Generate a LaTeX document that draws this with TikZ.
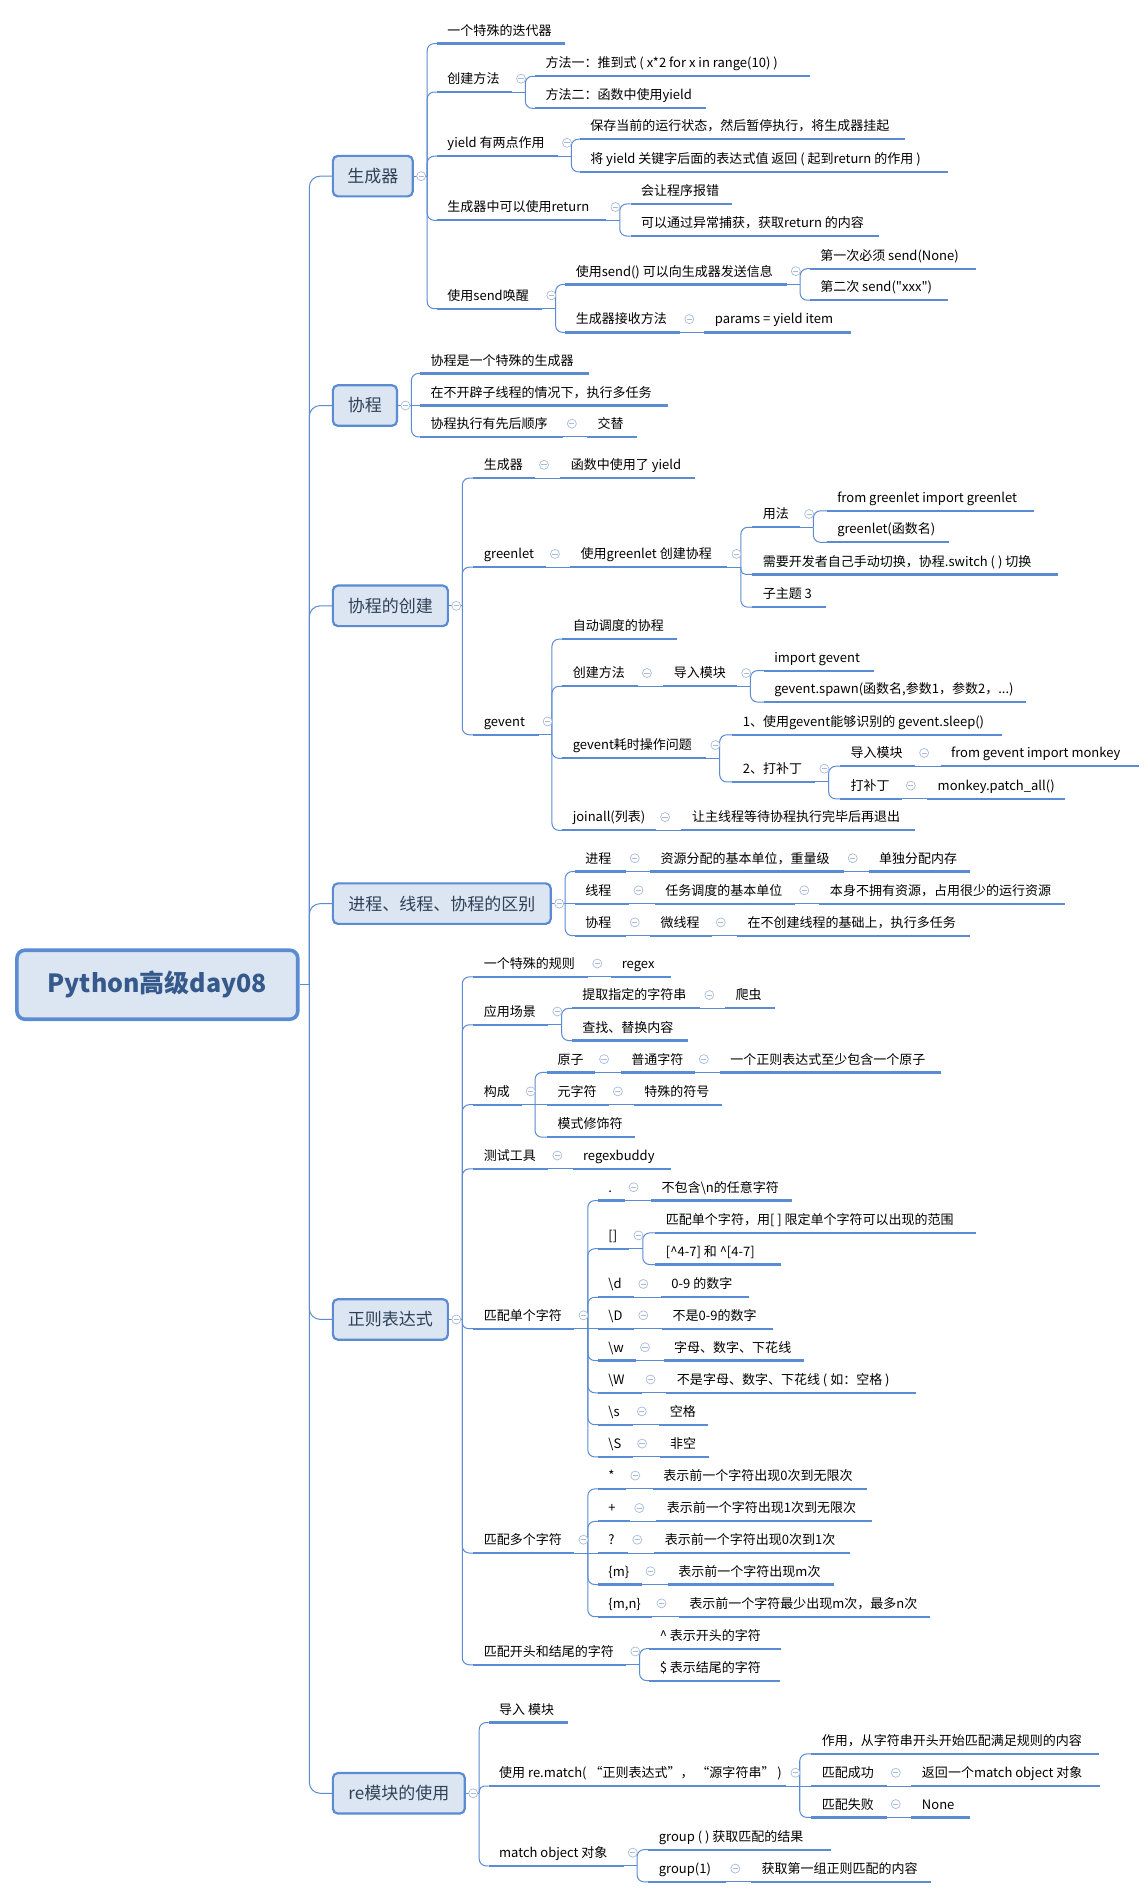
\documentclass[tikz,border=0pt]{standalone}
\usepackage{fontspec}
\setmainfont{Noto Sans CJK SC}
\definecolor{lc}{HTML}{5B8BD2}
\definecolor{ccol}{HTML}{A9BBDA}
\definecolor{bfill}{HTML}{DCE6F2}
\definecolor{mtext}{HTML}{2F4058}
\definecolor{rtext}{HTML}{34598A}
\tikzset{
 tp/.style={inner xsep=0pt, inner ysep=5.4pt, outer sep=0pt, text height=10.5pt, text depth=3pt,
   font=\fontsize{13}{15}\selectfont, text=black, anchor=south west},
 ul/.style={draw=lc, line width=2.2pt},
 cn/.style={draw=lc, line width=1pt},
 col/.style={circle, draw=ccol, fill=white, line width=0.7pt, minimum size=9pt, inner sep=0pt,
   path picture={\draw[ccol, line width=0.8pt] ([xshift=-2.6pt]path picture bounding box.center) -- ([xshift=2.6pt]path picture bounding box.center);}},
 mb/.style={rectangle, rounded corners=5pt, draw=lc, line width=2.2pt, fill=bfill,
   font=\fontsize{17}{20}\selectfont, text=mtext, inner sep=0pt},
 rootbox/.style={rectangle, rounded corners=8pt, draw=lc, line width=3.6pt, fill=bfill,
   font=\fontsize{25}{29}\selectfont\bfseries, text=rtext, inner sep=0pt},
}
% topic: name, x1, x2, underline y, text
\newcommand\tp[6][]{%
 \pgfmathsetlengthmacro\tpw{(#4-#3)*1.2099pt}%
 \node[tp,#1] (#2) at (#3,#5) {\makebox[\tpw][l]{\hspace{10.5pt}#6}};%
 \draw[ul] (#2.south west) -- (#2.south east);%
}
\newcommand\mbx[5]{%
 \pgfmathsetlengthmacro\tpw{(#3-#2)*1.2099pt}%
 \node[mb, minimum width=\tpw, minimum height=40.5pt] (#1) at ({(#2+#3)/2},#4) {#5};%
}
\newcommand\cl[1]{\node[col] (#1-c) at ([xshift=9pt,yshift=13.3pt]#1.south east) {};}
\newcommand\cb[1]{\node[col] (#1-c) at ([xshift=7.3pt]#1.east) {};}
\newcommand\lk[3][7pt]{\draw[cn] (#2.south east) -- ([xshift=13.3pt]#2.south east);%
 \draw[cn,rounded corners=#1] ([xshift=13.3pt]#2.south east) |- (#3.south west);}
\newcommand\lkb[3][7pt]{\draw[cn] (#2.east) -- ([xshift=13.3pt]#2.east);%
 \draw[cn,rounded corners=#1] ([xshift=13.3pt]#2.east) |- (#3.south west);}
\newcommand\ls[2]{\draw[cn] (#1.south east) -- (#2.south west);}
\newcommand\lsb[2]{\draw[cn] (#1.east) -- (#2.south west);}
\begin{document}
\begin{tikzpicture}[x=1.2099pt,y=-1.2099pt]
\fill[white] (0,0) rectangle (948,1568);
\useasboundingbox (0,0) rectangle (948,1568);

% ---------- root and main boxes ----------
\node[rootbox, minimum width=280.7pt, minimum height=69pt] (root) at (130,813.5) {Python高级day08};
\mbx{g}{275}{341}{145.5}{生成器}
\mbx{x}{275}{328}{335}{协程}
\mbx{c}{275}{370}{500.5}{协程的创建}
\mbx{q}{275}{455}{746.5}{进程、线程、协程的区别}
\mbx{r}{275}{370}{1090}{正则表达式}
\mbx{m}{275}{384}{1481.5}{re模块的使用}
\draw[cn] (root.east) -- ([xshift=9.7pt]root.east);
\foreach \b in {g,x,c,q,r,m} {\draw[cn,rounded corners=11pt] ([xshift=9.7pt]root.east) |- (\b.west);}

% ---------- 生成器 ----------
\tp{g1}{361}{467}{36}{一个特殊的迭代器}
\tp{g2}{361}{423}{76}{创建方法}
\tp{g21}{442}{669}{63}{方法一：推到式 ( x*2 for x in range(10) )}
\tp{g22}{442}{583}{89.5}{方法二：函数中使用yield}
\tp{g3}{361}{461}{129}{yield 有两点作用}
\tp{g31}{479}{748}{115}{保存当前的运行状态，然后暂停执行，将生成器挂起}
\tp{g32}{479}{783}{142}{将 yield 关键字后面的表达式值 返回 ( 起到return 的作用 )}
\tp{g4}{361}{501}{182}{生成器中可以使用return}
\tp{g41}{521}{605}{168.5}{会让程序报错}
\tp{g42}{521}{726}{195}{可以通过异常捕获，获取return 的内容}
\tp{g5}{361}{448}{255}{使用send唤醒}
\tp{g51}{467}{650}{235}{使用send() 可以向生成器发送信息}
\tp{g511}{669}{806}{222}{第一次必须 send(None)}
\tp{g512}{669}{783}{248}{第二次 send(\textquotedbl xxx\textquotedbl)}
\tp{g52}{467}{562}{274.6}{生成器接收方法}
\tp{g521}{582}{703}{274.6}{params = yield item}
\foreach \k in {g1,g2,g3,g4,g5} {\lkb{g}{\k}}
\lk{g2}{g21}\lk{g2}{g22}\lk{g3}{g31}\lk{g3}{g32}\lk{g4}{g41}\lk{g4}{g42}
\lk{g5}{g51}\lk{g5}{g52}\lk{g51}{g511}\lk{g51}{g512}\ls{g52}{g521}
\cb{g}\cl{g2}\cl{g3}\cl{g4}\cl{g5}\cl{g51}\cl{g52}

% ---------- 协程 ----------
\tp{x1}{347}{487}{308.5}{协程是一个特殊的生成器}
\tp{x2}{347}{552}{335}{在不开辟子线程的情况下，执行多任务}
\tp{x3}{347}{465}{361}{协程执行有先后顺序}
\tp{x31}{485}{526}{361}{交替}
\lkb{x}{x1}\lsb{x}{x2}\lkb{x}{x3}\ls{x3}{x31}
\cb{x}\cl{x3}

% ---------- 协程的创建 ----------
\tp{c1}{391}{442}{395}{生成器}
\tp{c11}{463}{574}{395}{函数中使用了 yield}
\tp{c2}{391}{451}{468.6}{greenlet}
\tp{c21}{471}{601}{468.6}{使用greenlet 创建协程}
\tp{c211}{621.5}{661}{435.6}{用法}
\tp{c2111}{683}{854}{422}{from greenlet import greenlet}
\tp{c2112}{683}{784}{448}{greenlet(函数名)}
\tp{c212}{621.5}{874}{474.6}{需要开发者自己手动切换，协程.switch ( ) 切换}
\tp{c213}{621.5}{682.6}{501.6}{子主题 3}
\tp{c3}{391}{445}{607}{gevent}
\tp{c31}{464.5}{559.6}{528}{自动调度的协程}
\tp{c32}{464.5}{527}{567}{创建方法}
\tp{c321}{548}{609}{567}{导入模块}
\tp{c3211}{631}{722}{554}{import gevent}
\tp{c3212}{631}{848}{580}{gevent.spawn(函数名,参数1，参数2，...)}
\tp{c33}{464.5}{583.6}{626.5}{gevent耗时操作问题}
\tp{c331}{605}{827.6}{607}{1、使用gevent能够识别的 gevent.sleep()}
\tp{c332}{605}{673.6}{646}{2、打补丁}
\tp{c3321}{694}{756}{633}{导入模块}
\tp{c33211}{777}{941}{633}{from gevent import monkey}
\tp{c3322}{694}{745}{660}{打补丁}
\tp{c33221}{766}{880}{660}{monkey.patch\_all()}
\tp{c34}{464.5}{542}{686}{joinall(列表)}
\tp{c341}{563}{756}{686}{让主线程等待协程执行完毕后再退出}
\lkb{c}{c1}\lkb{c}{c2}\lkb{c}{c3}
\ls{c1}{c11}\ls{c2}{c21}
\lk{c21}{c211}\lk[5pt]{c21}{c212}\lk{c21}{c213}
\lk{c211}{c2111}\lk{c211}{c2112}
\lk{c3}{c31}\lk{c3}{c32}\lk{c3}{c33}\lk{c3}{c34}
\ls{c32}{c321}\lk{c321}{c3211}\lk{c321}{c3212}
\lk{c33}{c331}\lk{c33}{c332}
\lk{c332}{c3321}\lk{c332}{c3322}
\ls{c3321}{c33211}\ls{c3322}{c33221}\ls{c34}{c341}
\cb{c}\cl{c1}\cl{c2}\cl{c21}\cl{c211}\cl{c3}\cl{c32}\cl{c321}\cl{c33}\cl{c332}\cl{c3321}\cl{c3322}\cl{c34}

% ---------- 进程、线程、协程的区别 ----------
\tp{q1}{475}{517}{720}{进程}
\tp{q11}{537}{697}{720}{资源分配的基本单位，重量级}
\tp{q111}{717.6}{801}{720}{单独分配内存}
\tp{q2}{475}{520}{746.5}{线程}
\tp{q21}{541}{657}{746.5}{任务调度的基本单位}
\tp{q211}{677}{880}{746.5}{本身不拥有资源，占用很少的运行资源}
\tp{q3}{475}{517}{773}{协程}
\tp{q31}{537}{588}{773}{微线程}
\tp{q311}{609}{801}{773}{在不创建线程的基础上，执行多任务}
\lkb{q}{q1}\lsb{q}{q2}\lkb{q}{q3}
\ls{q1}{q11}\ls{q11}{q111}\ls{q2}{q21}\ls{q21}{q211}\ls{q3}{q31}\ls{q31}{q311}
\cb{q}\cl{q1}\cl{q11}\cl{q2}\cl{q21}\cl{q3}\cl{q31}

% ---------- 正则表达式 ----------
\tp{r1}{391}{486}{807}{一个特殊的规则}
\tp{r11}{505}{554}{807}{regex}
\tp{r2}{391}{453}{846.6}{应用场景}
\tp{r21}{472.4}{578.6}{833}{提取指定的字符串}
\tp{r211}{599}{640}{833}{爬虫}
\tp{r22}{472.4}{568.6}{859.6}{查找、替换内容}
\tp{r3}{391}{431}{912.6}{构成}
\tp{r31}{452}{491.6}{886}{原子}
\tp{r311}{513}{574}{886}{普通字符}
\tp{r3111}{594.7}{777}{886}{一个正则表达式至少包含一个原子}
\tp{r32}{452}{503}{912.6}{元字符}
\tp{r321}{523.6}{596.7}{912.6}{特殊的符号}
\tp{r33}{452}{525}{939.5}{模式修饰符}
\tp{r4}{391}{453}{965.6}{测试工具}
\tp{r41}{473}{554}{965.6}{regexbuddy}
\tp{r5}{391}{474.6}{1097.6}{匹配单个字符}
\tp{r51}{494}{516}{991.8}{.}
\tp{r511}{538}{654.3}{991.8}{不包含\textbackslash n的任意字符}
\tp{r52}{494}{520}{1031.6}{[]}
\tp{r521}{541.5}{806}{1018.5}{匹配单个字符，用[ ] 限定单个字符可以出现的范围}
\tp{r522}{541.5}{645.6}{1044.7}{[\textasciicircum 4-7] 和 \textasciicircum[4-7]}
\tp{r53}{494}{524}{1071.7}{\textbackslash d}
\tp{r531}{546}{619}{1071.7}{0-9 的数字}
\tp{r54}{494}{524}{1097.6}{\textbackslash D}
\tp{r541}{547}{638.6}{1097.6}{不是0-9的数字}
\tp{r55}{494}{525.4}{1124}{\textbackslash w}
\tp{r551}{548.3}{664.4}{1124}{字母、数字、下花线}
\tp{r56}{494}{530}{1150.6}{\textbackslash W}
\tp{r561}{550.6}{757}{1150.6}{不是字母、数字、下花线 ( 如：空格 )}
\tp{r57}{494}{522.8}{1177}{\textbackslash s}
\tp{r571}{544.7}{585}{1177}{空格}
\tp{r58}{494}{523}{1203.6}{\textbackslash S}
\tp{r581}{545}{585.7}{1203.6}{非空}
\tp{r6}{391}{474.6}{1283}{匹配多个字符}
\tp{r61}{494}{517.4}{1230}{*}
\tp{r611}{539.3}{716.6}{1230}{表示前一个字符出现0次到无限次}
\tp{r62}{494}{520.7}{1256.8}{+}
\tp{r621}{542.3}{720}{1256.8}{表示前一个字符出现1次到无限次}
\tp{r63}{494}{519}{1283}{?}
\tp{r631}{540.5}{702.5}{1283}{表示前一个字符出现0次到1次}
\tp{r64}{494}{530}{1309}{\{m\}}
\tp{r641}{551.8}{689.3}{1309}{表示前一个字符出现m次}
\tp{r65}{494}{539}{1335.6}{\{m,n\}}
\tp{r651}{560.8}{768.6}{1335.6}{表示前一个字符最少出现m次，最多n次}
\tp{r7}{391}{517.4}{1375.3}{匹配开头和结尾的字符}
\tp{r71}{536.4}{645.6}{1362}{\textasciicircum{} 表示开头的字符}
\tp{r72}{536.4}{644}{1388.4}{\$ 表示结尾的字符}
\foreach \k in {r1,r2,r3,r4,r6,r7} {\lkb{r}{\k}}
\lkb[6pt]{r}{r5}
\ls{r1}{r11}\lk{r2}{r21}\lk{r2}{r22}\ls{r21}{r211}
\lk{r3}{r31}\ls{r3}{r32}\lk{r3}{r33}\ls{r31}{r311}\ls{r311}{r3111}\ls{r32}{r321}
\ls{r4}{r41}
\foreach \k in {r51,r52,r53,r55,r56,r57,r58} {\lk{r5}{\k}}
\ls{r5}{r54}
\ls{r51}{r511}\lk{r52}{r521}\lk{r52}{r522}
\ls{r53}{r531}\ls{r54}{r541}\ls{r55}{r551}\ls{r56}{r561}\ls{r57}{r571}\ls{r58}{r581}
\foreach \k in {r61,r62,r64,r65} {\lk{r6}{\k}}
\ls{r6}{r63}
\ls{r61}{r611}\ls{r62}{r621}\ls{r63}{r631}\ls{r64}{r641}\ls{r65}{r651}
\lk{r7}{r71}\lk{r7}{r72}
\cb{r}
\foreach \k in {r1,r2,r21,r3,r31,r311,r32,r4,r5,r51,r52,r53,r54,r55,r56,r57,r58,r6,r61,r62,r63,r64,r65,r7} {\cl{\k}}

% ---------- re模块的使用 ----------
\tp{m1}{403.7}{469.3}{1423}{导入 模块}
\tp{m2}{403.7}{649.7}{1475.5}{使用 re.match( “正则表达式”， “源字符串” )}
\tp{m21}{670.3}{907.6}{1449}{作用，从字符串开头开始匹配满足规则的内容}
\tp{m22}{670.3}{732.6}{1475.5}{匹配成功}
\tp{m221}{753}{908.5}{1475.5}{返回一个match object 对象}
\tp{m23}{670.3}{732.6}{1501.4}{匹配失败}
\tp{m231}{753}{801}{1501.4}{None}
\tp{m3}{403.7}{515.3}{1541.5}{match object 对象}
\tp{m31}{535.6}{686.8}{1528}{group ( ) 获取匹配的结果}
\tp{m32}{535.6}{600}{1554.7}{group(1)}
\tp{m321}{620.5}{769.5}{1554.7}{获取第一组正则匹配的内容}
\lkb{m}{m1}\lkb[5pt]{m}{m2}\lkb{m}{m3}
\lk{m2}{m21}\ls{m2}{m22}\lk{m2}{m23}\ls{m22}{m221}\ls{m23}{m231}
\lk{m3}{m31}\lk{m3}{m32}\ls{m32}{m321}
\cb{m}\cl{m2}\cl{m22}\cl{m23}\cl{m3}\cl{m32}
\end{tikzpicture}
\end{document}
